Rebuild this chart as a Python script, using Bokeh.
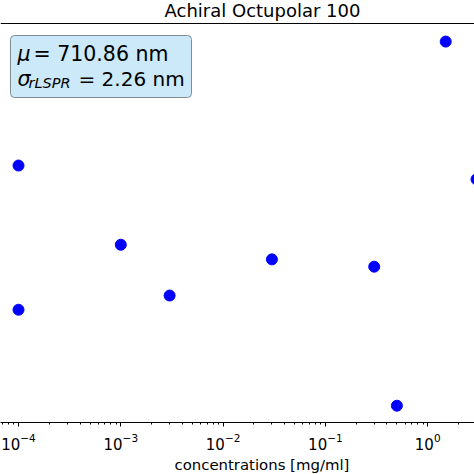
from bokeh.plotting import figure
from bokeh.models import Label, BoxAnnotation, Span, LogTicker, Title
from bokeh.embed import file_html
from bokeh.resources import INLINE
import numpy as np

# data
concentrations = [1e-4, 1e-4, 1e-3, 3e-3, 3e-2, 3e-1, 0.5, 1.5, 3.0]
lspr_nm = [712.61, 709.26, 710.77, 709.59, 710.43, 710.26, 707.03, 715.49, 712.29]
mean_text = "= 710.86 nm"
std_text = "= 2.26 nm"
title_text = "Achiral Octupolar 100"
xlabel_text = "concentrations [mg/ml]"

W, H = 474, 474
FBOT = 422
x_lo, x_hi = 10 ** -4.176, 10 ** 0.4575
y_lo, y_top = 706.64, 715.91          # axes limits of the original
y_hi = y_top + 23 * (y_top - y_lo) / (FBOT - 23)   # frame runs up to the canvas top
FONT = "DejaVu Sans"


# canvas pixel -> data coordinates, for placing the annotations
def sx(px):
    a, b = np.log10(x_lo), np.log10(x_hi)
    return 10 ** (a + px / W * (b - a))


def sy(py):
    return y_hi - py / FBOT * (y_hi - y_lo)


p = figure(width=W, height=H,
           x_axis_type="log",
           x_range=(x_lo, x_hi),
           y_range=(y_lo, y_hi),
           y_axis_location=None,
           output_backend="svg",
           toolbar_location=None,
           min_border_left=0, min_border_right=0,
           min_border_top=0, min_border_bottom=0)

p.grid.visible = False
p.outline_line_color = None
p.background_fill_color = "white"

p.xaxis.ticker = LogTicker(num_minor_ticks=10)
p.xaxis.axis_line_color = "black"
p.xaxis.axis_line_width = 1.2
p.xaxis.major_tick_line_color = "black"
p.xaxis.minor_tick_line_color = "black"
p.xaxis.major_tick_in = 0
p.xaxis.major_tick_out = 4
p.xaxis.minor_tick_in = 0
p.xaxis.minor_tick_out = 2
p.xaxis.major_label_text_font = FONT
p.xaxis.major_label_text_font_size = "15px"
p.xaxis.major_label_text_color = "black"
p.xaxis.major_label_standoff = 6

p.add_layout(Title(text=xlabel_text, align="left", offset=174,
                   text_font=FONT, text_font_size="14.9px",
                   text_font_style="normal", text_color="black", standoff=2), "below")

# top spine
p.add_layout(Span(location=y_top, dimension="width", line_color="black", line_width=1.2))

# title over the centre of the original (wider) axes
p.add_layout(Label(x=sx(262), y=sy(10), text=title_text, text_align="center",
                   text_baseline="alphabetic", text_font=FONT, text_font_size="18px",
                   text_color="black"))

p.scatter(concentrations, lspr_nm, size=11, color="#0000ff")

# stats box
p.add_layout(BoxAnnotation(left=sx(10), right=sx(191), top=sy(35), bottom=sy(97),
                           fill_color="#cbe9f8", fill_alpha=1.0,
                           line_color="#7f8c94", line_alpha=1.0, line_width=1,
                           border_radius=4))

def txt(x, y, t, size, style="normal"):
    p.add_layout(Label(x=sx(x), y=sy(y), text=t, text_baseline="alphabetic",
                       text_font=FONT, text_font_size=size, text_font_style=style,
                       text_color="black"))

txt(17, 53, "\u03bc", "20.5px", "italic")
txt(33, 53, mean_text, "20.5px")
txt(17, 78, "\u03c3", "20.5px", "italic")
txt(28, 82, "rLSPR", "14.5px", "italic")
txt(78, 78, std_text, "20px")

open("out.html", "w").write(file_html(p, INLINE))
